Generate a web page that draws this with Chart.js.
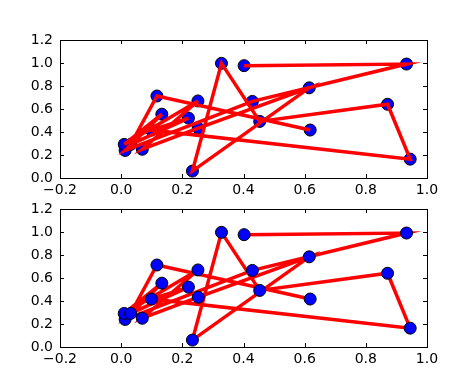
<!DOCTYPE html>
<html>
<head>
<meta charset="utf-8">
<script src="https://cdn.jsdelivr.net/npm/chart.js@4.4.1/dist/chart.umd.min.js"></script>
<style>
	html, body { margin: 0; padding: 0; background: #fff; }
	#wrap { position: relative; width: 474px; height: 387px; overflow: hidden; }
	canvas { position: absolute; left: 0; }
	#top { top: 10px; }
	#bottom { top: 179px; }
</style>
</head>
<body>
<div id="wrap">
	<canvas id="top" width="474" height="190"></canvas>
	<canvas id="bottom" width="474" height="190"></canvas>
</div>
<script>
'use strict';

// Points in the order the red line visits them (same data in both panels)
var xValues = [0.402, 0.933, 0.429, 0.013, 0.133, 0.010, 0.251, 0.069, 0.252, 0.615,
	0.233, 0.328, 0.453, 0.871, 0.945, 0.099, 0.220, 0.031, 0.117, 0.618];
var yValues = [0.977, 0.991, 0.666, 0.240, 0.555, 0.292, 0.670, 0.250, 0.433, 0.784,
	0.060, 0.997, 0.492, 0.641, 0.164, 0.417, 0.521, 0.292, 0.713, 0.417];

var xTicks = [-0.2, 0.0, 0.2, 0.4, 0.6, 0.8, 1.0];
var yTicks = [0.0, 0.2, 0.4, 0.6, 0.8, 1.0, 1.2];

var points = xValues.map(function(x, i) {
	return {x: x, y: yValues[i]};
});

function fmt(v) {
	if (Math.abs(v) < 1e-9) {
		return '0.0';
	}
	return v.toFixed(1).replace('-', '\u2212');
}

// matplotlib classic look: full black frame, ticks pointing inwards on all sides
var framePlugin = {
	id: 'frame',
	afterDatasetsDraw: function(chart) {
		var ctx = chart.ctx,
			area = chart.chartArea,
			xs = chart.scales.x,
			ys = chart.scales.y,
			len = 4;

		ctx.save();
		ctx.strokeStyle = '#000';
		ctx.lineWidth = 1;
		ctx.beginPath();

		xTicks.forEach(function(v) {
			var px = Math.round(xs.getPixelForValue(v)) + 0.5;
			ctx.moveTo(px, area.bottom);
			ctx.lineTo(px, area.bottom - len);
			ctx.moveTo(px, area.top);
			ctx.lineTo(px, area.top + len);
		});
		yTicks.forEach(function(v) {
			var py = Math.round(ys.getPixelForValue(v)) + 0.5;
			ctx.moveTo(area.left, py);
			ctx.lineTo(area.left + len, py);
			ctx.moveTo(area.right, py);
			ctx.lineTo(area.right - len, py);
		});
		ctx.stroke();

		ctx.strokeRect(Math.round(area.left) + 0.5, Math.round(area.top) + 0.5,
			Math.round(area.right - area.left), Math.round(area.bottom - area.top));
		ctx.restore();
	}
};

function makeChart(id, linesOnTop) {
	var font = {family: '"DejaVu Sans", sans-serif', size: 14};

	return new Chart(document.getElementById(id), {
		type: 'scatter',
		data: {
			datasets: [
				{
					data: points,
					showLine: true,
					borderColor: '#ff0000',
					borderWidth: 3.5,
					pointRadius: 0,
					pointHoverRadius: 0,
					order: linesOnTop ? 0 : 1
				},
				{
					data: points,
					showLine: false,
					backgroundColor: '#0000ff',
					borderColor: '#000',
					borderWidth: 1,
					pointRadius: 6,
					pointHoverRadius: 6,
					order: linesOnTop ? 1 : 0
				}
			]
		},
		options: {
			responsive: false,
			animation: false,
			devicePixelRatio: 1,
			clip: false,
			layout: {padding: {left: 0, right: 47, top: 30, bottom: 0}},
			plugins: {
				legend: {display: false},
				tooltip: {enabled: false}
			},
			scales: {
				x: {
					type: 'linear',
					min: xTicks[0],
					max: xTicks[xTicks.length - 1],
					afterFit: function(s) { s.height = 22; },
					afterBuildTicks: function(s) {
						s.ticks = xTicks.map(function(v) { return {value: v}; });
					},
					grid: {display: false, drawTicks: false},
					border: {display: false},
					ticks: {
						color: '#000',
						font: font,
						padding: 4,
						maxRotation: 0,
						autoSkip: false,
						callback: fmt
					}
				},
				y: {
					type: 'linear',
					min: yTicks[0],
					max: yTicks[yTicks.length - 1],
					afterFit: function(s) { s.width = 60; },
					afterBuildTicks: function(s) {
						s.ticks = yTicks.map(function(v) { return {value: v}; });
					},
					grid: {display: false, drawTicks: false},
					border: {display: false},
					ticks: {
						color: '#000',
						font: font,
						padding: 7,
						autoSkip: false,
						callback: fmt
					}
				}
			}
		},
		plugins: [framePlugin]
	});
}

makeChart('top', true);
makeChart('bottom', false);
</script>
</body>
</html>
